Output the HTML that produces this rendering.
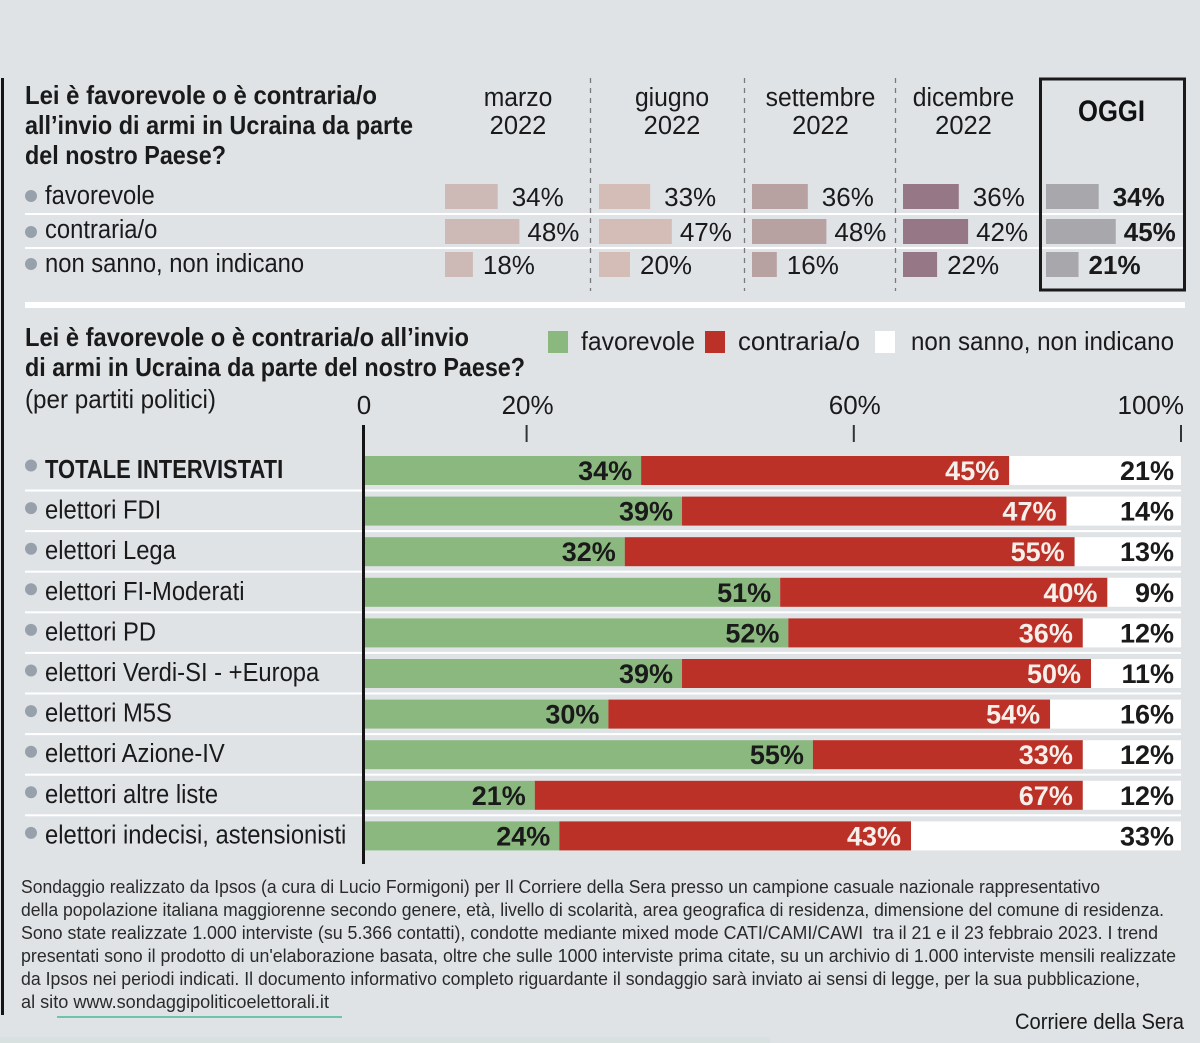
<!DOCTYPE html>
<html lang="it">
<head>
<meta charset="utf-8">
<title>Sondaggio armi Ucraina</title>
<style>
html,body{margin:0;padding:0;background:#dfe3e6;}
svg{display:block;font-family:"Liberation Sans",sans-serif;}
text{fill:#1a1a1a;}
.ttl{font-size:26px;font-weight:bold;}
.reg{font-size:26px;}
.note{font-size:18px;fill:#2a2a2a;}
</style>
</head>
<body>
<svg id="chart" xmlns="http://www.w3.org/2000/svg" width="1200" height="1043" viewBox="0 0 1200 1043">
  <rect x="0" y="0" width="1200" height="1043" fill="#dfe3e6"/>
  <rect x="0" y="1037" width="770" height="6" fill="#d9e1e0"/>
  <rect x="1" y="78" width="3" height="937" fill="#151515"/>

  <text class="ttl" x="25" y="104" textLength="352" lengthAdjust="spacingAndGlyphs">Lei è favorevole o è contraria/o</text>
  <text class="ttl" x="25" y="134" textLength="388" lengthAdjust="spacingAndGlyphs">all’invio di armi in Ucraina da parte</text>
  <text class="ttl" x="25" y="164" textLength="201" lengthAdjust="spacingAndGlyphs">del nostro Paese?</text>

  <g id="trend-layer"></g>

  <rect x="1040.5" y="79" width="144" height="211" fill="none" stroke="#1a1a1a" stroke-width="3"/>
  <text x="1078" y="121" font-size="30" font-weight="bold" textLength="67" lengthAdjust="spacingAndGlyphs" style="fill:#111">OGGI</text>
  <rect x="25" y="302" width="1160" height="6" fill="#ffffff"/>

  <text class="ttl" x="25" y="346" textLength="444" lengthAdjust="spacingAndGlyphs">Lei è favorevole o è contraria/o all’invio</text>
  <text class="ttl" x="25" y="376" textLength="500" lengthAdjust="spacingAndGlyphs">di armi in Ucraina da parte del nostro Paese?</text>
  <text class="reg" x="25" y="408" textLength="191" lengthAdjust="spacingAndGlyphs">(per partiti politici)</text>

  <rect x="548" y="331" width="20" height="22" fill="#8ab87f"/>
  <text class="reg" x="581" y="350" textLength="114" lengthAdjust="spacingAndGlyphs">favorevole</text>
  <rect x="705" y="331" width="20" height="22" fill="#bb3027"/>
  <text class="reg" x="738" y="350" textLength="122" lengthAdjust="spacingAndGlyphs">contraria/o</text>
  <rect x="875" y="331" width="20" height="22" fill="#ffffff"/>
  <text class="reg" x="911" y="350" textLength="263" lengthAdjust="spacingAndGlyphs">non sanno, non indicano</text>

  <g id="party-layer"></g>

  <text class="note" x="21" y="893" textLength="1079" lengthAdjust="spacingAndGlyphs">Sondaggio realizzato da Ipsos (a cura di Lucio Formigoni) per Il Corriere della Sera presso un campione casuale nazionale rappresentativo</text>
  <text class="note" x="21" y="916" textLength="1143" lengthAdjust="spacingAndGlyphs">della popolazione italiana maggiorenne secondo genere, età, livello di scolarità, area geografica di residenza, dimensione del comune di residenza.</text>
  <text class="note" x="21" y="939" textLength="1137" lengthAdjust="spacingAndGlyphs" xml:space="preserve">Sono state realizzate 1.000 interviste (su 5.366 contatti), condotte mediante mixed mode CATI/CAMI/CAWI  tra il 21 e il 23 febbraio 2023. I trend</text>
  <text class="note" x="21" y="962" textLength="1155" lengthAdjust="spacingAndGlyphs">presentati sono il prodotto di un'elaborazione basata, oltre che sulle 1000 interviste prima citate, su un archivio di 1.000 interviste mensili realizzate</text>
  <text class="note" x="21" y="985" textLength="1119" lengthAdjust="spacingAndGlyphs">da Ipsos nei periodi indicati. Il documento informativo completo riguardante il sondaggio sarà inviato ai sensi di legge, per la sua pubblicazione,</text>
  <text class="note" x="21" y="1008" textLength="308" lengthAdjust="spacingAndGlyphs">al sito www.sondaggipoliticoelettorali.it</text>
  <rect x="57" y="1016" width="285" height="2" fill="#6fc3a8"/>
  <text x="1015" y="1029" font-size="22" textLength="169" lengthAdjust="spacingAndGlyphs">Corriere della Sera</text>
</svg>
<script>
// ---- Trend table data ----
var trendMonths = ['marzo', 'giugno', 'settembre', 'dicembre', 'OGGI'];
var trendYears = ['2022', '2022', '2022', '2022', ''];
var trendOptions = ['favorevole', 'contraria/o', 'non sanno, non indicano'];
var trendFavorevole = [34, 33, 36, 36, 34];
var trendContraria = [48, 47, 48, 42, 45];
var trendNonSanno = [18, 20, 16, 22, 21];

// ---- Party chart data ----
var partyCategories = ['TOTALE INTERVISTATI', 'elettori FDI', 'elettori Lega', 'elettori FI-Moderati', 'elettori PD', 'elettori Verdi-SI - +Europa', 'elettori M5S', 'elettori Azione-IV', 'elettori altre liste', 'elettori indecisi, astensionisti'];
var partyFavorevole = [34, 39, 32, 51, 52, 39, 30, 55, 21, 24];
var partyContraria = [45, 47, 55, 40, 36, 50, 54, 33, 67, 43];
var partyNonSanno = [21, 14, 13, 9, 12, 11, 16, 12, 12, 33];
var axisTicks = [0, 20, 60, 100];

var SVGNS = 'http://www.w3.org/2000/svg';
function mk(tag, parent, attrs, txt) {
  var el = document.createElementNS(SVGNS, tag);
  for (var k in attrs) el.setAttribute(k, attrs[k]);
  if (txt !== undefined) el.textContent = txt;
  parent.appendChild(el);
  return el;
}

// ---- Trend table ----
var trendLayer = document.getElementById('trend-layer');
var trendSeries = [trendFavorevole, trendContraria, trendNonSanno];
var colStart = [445, 599, 752, 903, 1046];
var colCenter = [518, 672, 820.5, 963.5, 1111];
var colFill = ['#cdbab6', '#d4bdb7', '#b8a1a1', '#957785', '#a8a8ac'];
var optBarTop = [184, 219, 252];
var optBaseline = [206, 241, 274];
var optLabelBase = [204, 238, 272];
var optBulletY = [196, 232, 264];
var optGap = [14, 8, 10];
var trendPerPct = 1.55;
var dashX = [590.5, 744.5, 895.5];

[214, 248].forEach(function (y) {
  var sep = mk('rect', trendLayer, {x: 25, y: y - 1, width: 1158, height: 2, fill: '#ffffff'});
  
  
});
dashX.forEach(function (x) {
  var dash = mk('line', trendLayer, {x1: x, x2: x, y1: 78, y2: 291, stroke: '#77797d', 'stroke-width': 1.3, 'stroke-dasharray': '5 5'});
  
  
});
trendOptions.forEach(function (opt, r) {
  var dot = mk('circle', trendLayer, {cx: 31, cy: optBulletY[r], r: 6, fill: '#98a1ab'});
  
  
  var lab = mk('text', trendLayer, {transform: 'translate(45,' + optLabelBase[r] + ') scale(0.915,1)', 'font-size': 26}, opt);
  
  
});
trendMonths.forEach(function (m, c) {
  if (trendYears[c]) {
    var mo = mk('text', trendLayer, {transform: 'translate(' + colCenter[c] + ',106) scale(0.95,1)', 'text-anchor': 'middle', 'font-size': 26}, m);
    
    
    var yr = mk('text', trendLayer, {transform: 'translate(' + colCenter[c] + ',134) scale(0.98,1)', 'text-anchor': 'middle', 'font-size': 26}, trendYears[c]);
    
    
  }
  trendSeries.forEach(function (series, r) {
    var w = series[c] * trendPerPct;
    var bar = mk('rect', trendLayer, {x: colStart[c], y: optBarTop[r], width: w, height: 25, fill: colFill[c]});
    
    
    var isToday = c === trendMonths.length - 1;
    var val = mk('text', trendLayer, {x: colStart[c] + w + optGap[r], y: optBaseline[r], 'font-size': 26, 'font-weight': isToday ? 'bold' : 'normal'}, series[c] + '%');
    
    
  });
});

// ---- Party chart ----
var partyLayer = document.getElementById('party-layer');
function xScale(v) { return 363 + v * 8.18; }
function rowTop(i) { return 456 + i * 40.6; }
var BAR_H = 29;

axisTicks.forEach(function (t) {
  var isLast = t === axisTicks[axisTicks.length - 1];
  var tl = mk('text', partyLayer, {x: isLast ? xScale(t) + 3 : xScale(t) + 1, y: 414, 'text-anchor': isLast ? 'end' : 'middle', 'font-size': 26}, t === 0 ? '0' : t + '%');
  
  
  if (t !== 0) {
    var tm = mk('rect', partyLayer, {x: xScale(t) - 1, y: 425, width: 2, height: 17, fill: '#333333'});
    
    
  }
});

partyCategories.forEach(function (cat, i) {
  var top = rowTop(i);
  if (i < partyCategories.length - 1) {
    var sep = mk('rect', partyLayer, {x: 25, y: top + 33.5, width: 1156, height: 2, fill: '#ffffff'});
    
    
  }
  var dot = mk('circle', partyLayer, {cx: 31, cy: top + 9.5 + (i === 0 ? 0 : 2), r: 6, fill: '#98a1ab'});
  
  
  var lab = mk('text', partyLayer, {transform: 'translate(45,' + (top + 22) + ') scale(' + (i === 0 ? 0.845 : 0.915) + ',1)', 'font-size': 26, 'font-weight': i === 0 ? 'bold' : 'normal'}, cat);
  
  

  var a = partyFavorevole[i], b = partyContraria[i], c = partyNonSanno[i];
  var g = mk('rect', partyLayer, {x: xScale(0), y: top, width: xScale(a) - xScale(0), height: BAR_H, fill: '#8ab87f'});
  
  
  var rd = mk('rect', partyLayer, {x: xScale(a), y: top, width: xScale(a + b) - xScale(a), height: BAR_H, fill: '#bb3027'});
  
  
  var wh = mk('rect', partyLayer, {x: xScale(a + b), y: top, width: xScale(a + b + c) - xScale(a + b), height: BAR_H, fill: '#ffffff'});
  
  

  var tg = mk('text', partyLayer, {x: xScale(a) - 9, y: top + 24, 'text-anchor': 'end', 'font-size': 27, 'font-weight': 'bold'}, a + '%');
  
  
  var tr = mk('text', partyLayer, {x: xScale(a + b) - 10, y: top + 24, 'text-anchor': 'end', 'font-size': 27, 'font-weight': 'bold', style: 'fill:#f6efea'}, b + '%');
  
  
  var tw = mk('text', partyLayer, {x: xScale(a + b + c) - 7, y: top + 24, 'text-anchor': 'end', 'font-size': 27, 'font-weight': 'bold'}, c + '%');
  
  
});

var axis = mk('rect', partyLayer, {x: 362, y: 425, width: 3, height: 439, fill: '#151515'});


</script>
</body>
</html>
